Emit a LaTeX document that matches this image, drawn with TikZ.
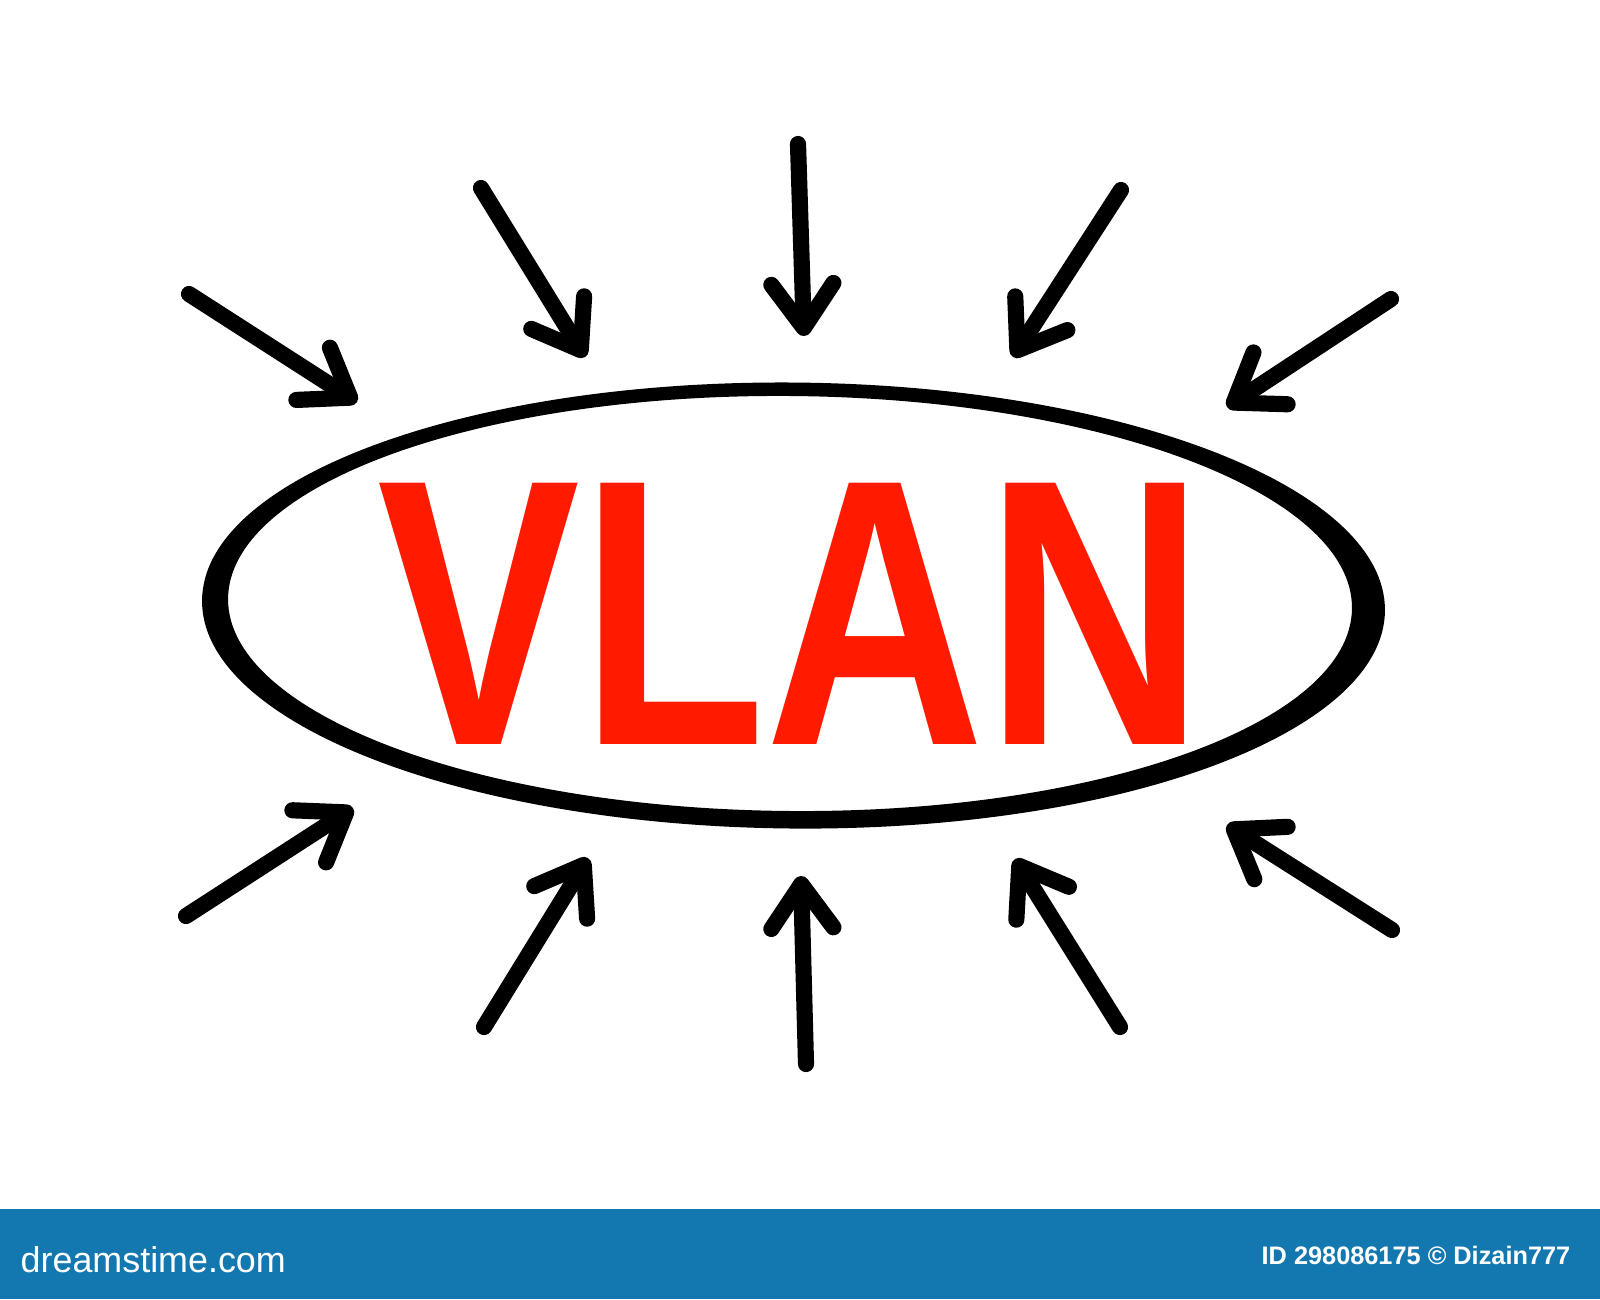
\documentclass[tikz,border=0pt]{standalone}
\usepackage{fontspec}
\setmainfont{Liberation Sans}
\usetikzlibrary{arrows.meta}
\definecolor{vlanred}{RGB}{255,26,0}
\definecolor{stockblue}{RGB}{19,120,176}
\tikzset{
  pointer/.style={line width=4.6pt, line cap=round,
    -{Straight Barb[length=4.4mm,width=6.2mm,round]}},
}
\begin{document}
\begin{tikzpicture}[x=0.01cm,y=-0.01cm]
  \useasboundingbox (0,0) rectangle (1600,1299);
  %oval
  \fill[even odd rule,rotate around={-0.5:(792,605)}]
    (793.5,605.5) ellipse (591.5 and 223)
    (790,603.5) ellipse (562 and 207.5);
  %VLAN
  \node[text=vlanred, font=\fontsize{108}{110}\selectfont\bfseries,
    xscale=0.8, transform shape, inner sep=0] (vlan) at (791,614) {VLAN};
  %arrows pointing in
  \foreach \i/\tx/\ty/\hx/\hy in {1/189/294/357/402, 2/481/188/585/357,
      3/798/144/804/336, 4/1121/190/1013/357, 5/1391/299/1227/407,
      6/186/916/353/808, 7/484/1027/588/858, 8/806/1064/801/876,
      9/1120/1027/1015/859, 10/1392/930/1227/825}{
    \coordinate (tail\i) at (\tx,\ty);
    \coordinate (head\i) at (\hx,\hy);
    \draw[pointer] (tail\i) -- (head\i);
  }
  %footer
  \fill[stockblue] (0,1209) rectangle (1600,1299);
  \node[anchor=west, inner sep=0, text=white,
    font=\fontsize{10.2}{12}\selectfont] (site) at (20,1260) {dreamstime.com};
  \node[anchor=east, inner sep=0, text=white,
    font=\fontsize{7.2}{9}\selectfont\bfseries] (imgid) at (1571,1255)
    {ID 298086175 © Dizain777};
\end{tikzpicture}
\end{document}
